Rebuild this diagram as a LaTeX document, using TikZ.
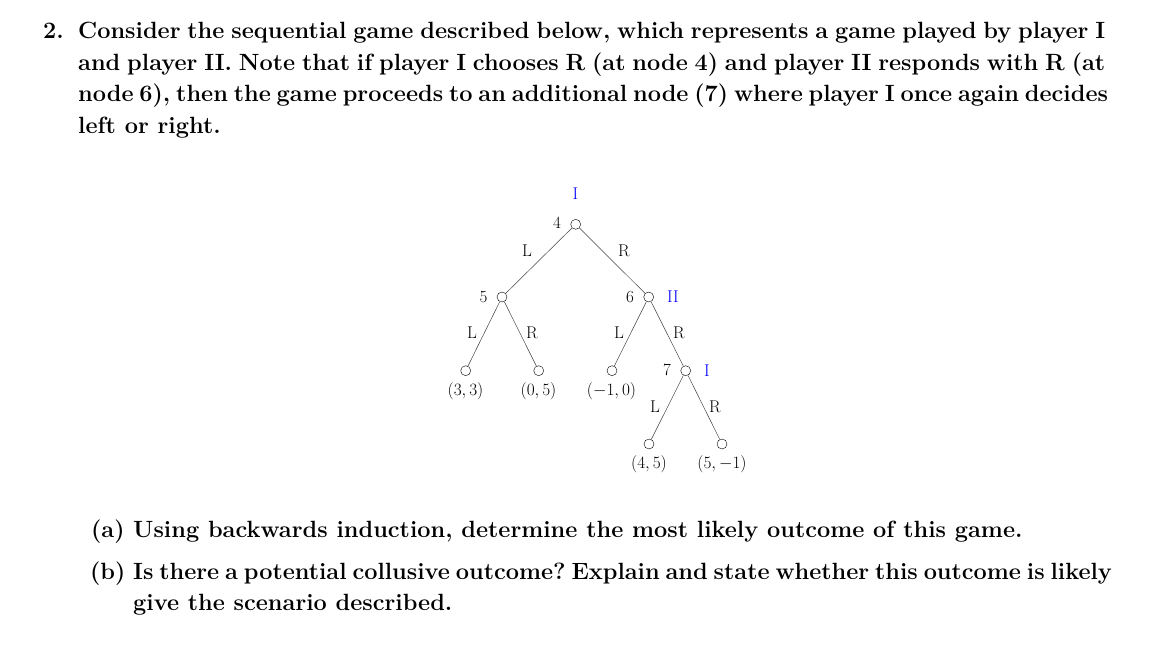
\documentclass[tikz,border=0pt]{standalone}
\begin{document}
\frenchspacing
\begin{tikzpicture}[x=1pt,y=-1pt,
  gn/.style={circle,draw,inner sep=0pt,minimum size=10pt,fill=white},
  body/.style={anchor=base west,inner sep=0pt,font=\fontsize{23.5}{28}\selectfont\bfseries},
  sm/.style={font=\fontsize{17}{19}\selectfont,inner sep=1pt},
  pl/.style={sm,text=blue},
  edge/.style={draw=black!75,line width=0.5pt}]
\useasboundingbox (0,0) rectangle (1152,662);
% text
\node[body] (n2) at (43,38) {2.};
\node[body] (l1) at (78,38) {\makebox[1027pt][s]{Consider the sequential game described below, which represents a game played by player I}};
\node[body] (l2) at (78,70) {\makebox[1027pt][s]{and player II. Note that if player I chooses R (at node 4) and player II responds with R (at}};
\node[body] (l3) at (78,101) {\makebox[1027pt][s]{node 6), then the game proceeds to an additional node (7) where player I once again decides}};
\node[body] (l4) at (78,133) {left or right.};
\node[body] (qa) at (91,537) {(a)};
\node[body] (ta) at (133,537) {Using backwards induction, determine the most likely outcome of this game.};
\node[body] (qb) at (90,579) {(b)};
\node[body] (tb) at (133,579) {\makebox[972pt][s]{Is there a potential collusive outcome? Explain and state whether this outcome is likely}};
\node[body] (tb2) at (133,610) {give the scenario described.};
% tree
\node[gn] (n4) at (575.7,224.3) {};
\node[gn] (n5) at (502,297) {};
\node[gn] (n6) at (648.7,297) {};
\node[gn] (a) at (465.7,370.7) {};
\node[gn] (b) at (538.7,370.7) {};
\node[gn] (c) at (612,370.7) {};
\node[gn] (n7) at (685.7,370.7) {};
\node[gn] (d) at (649,444) {};
\node[gn] (e) at (722,444) {};
\draw[edge] (n4)--(n5) (n4)--(n6) (n5)--(a) (n5)--(b) (n6)--(c) (n6)--(n7) (n7)--(d) (n7)--(e);
\node[pl] (p1) at (575.5,194) {I};
\node[sm] (k4) at (557,223) {4};
\node[sm] (k5) at (483.5,297) {5};
\node[sm] (k6) at (630,297) {6};
\node[pl] (p2) at (673,297) {II};
\node[sm] (k7) at (667,370) {7};
\node[pl] (p3) at (707,371) {I};
\node[sm] (e1) at (527,251) {L};
\node[sm] (e2) at (624,251) {R};
\node[sm] (e3) at (472,333) {L};
\node[sm] (e4) at (532,333) {R};
\node[sm] (e5) at (619,333) {L};
\node[sm] (e6) at (679,333) {R};
\node[sm] (e7) at (655,407) {L};
\node[sm] (e8) at (715,407) {R};
\node[sm] (v1) at (465.5,391) {$(3,3)$};
\node[sm] (v2) at (538.5,391) {$(0,5)$};
\node[sm] (v3) at (611.5,391) {$(-1,0)$};
\node[sm] (v4) at (649,464) {$(4,5)$};
\node[sm] (v5) at (722,464) {$(5,-1)$};
\end{tikzpicture}
\end{document}
